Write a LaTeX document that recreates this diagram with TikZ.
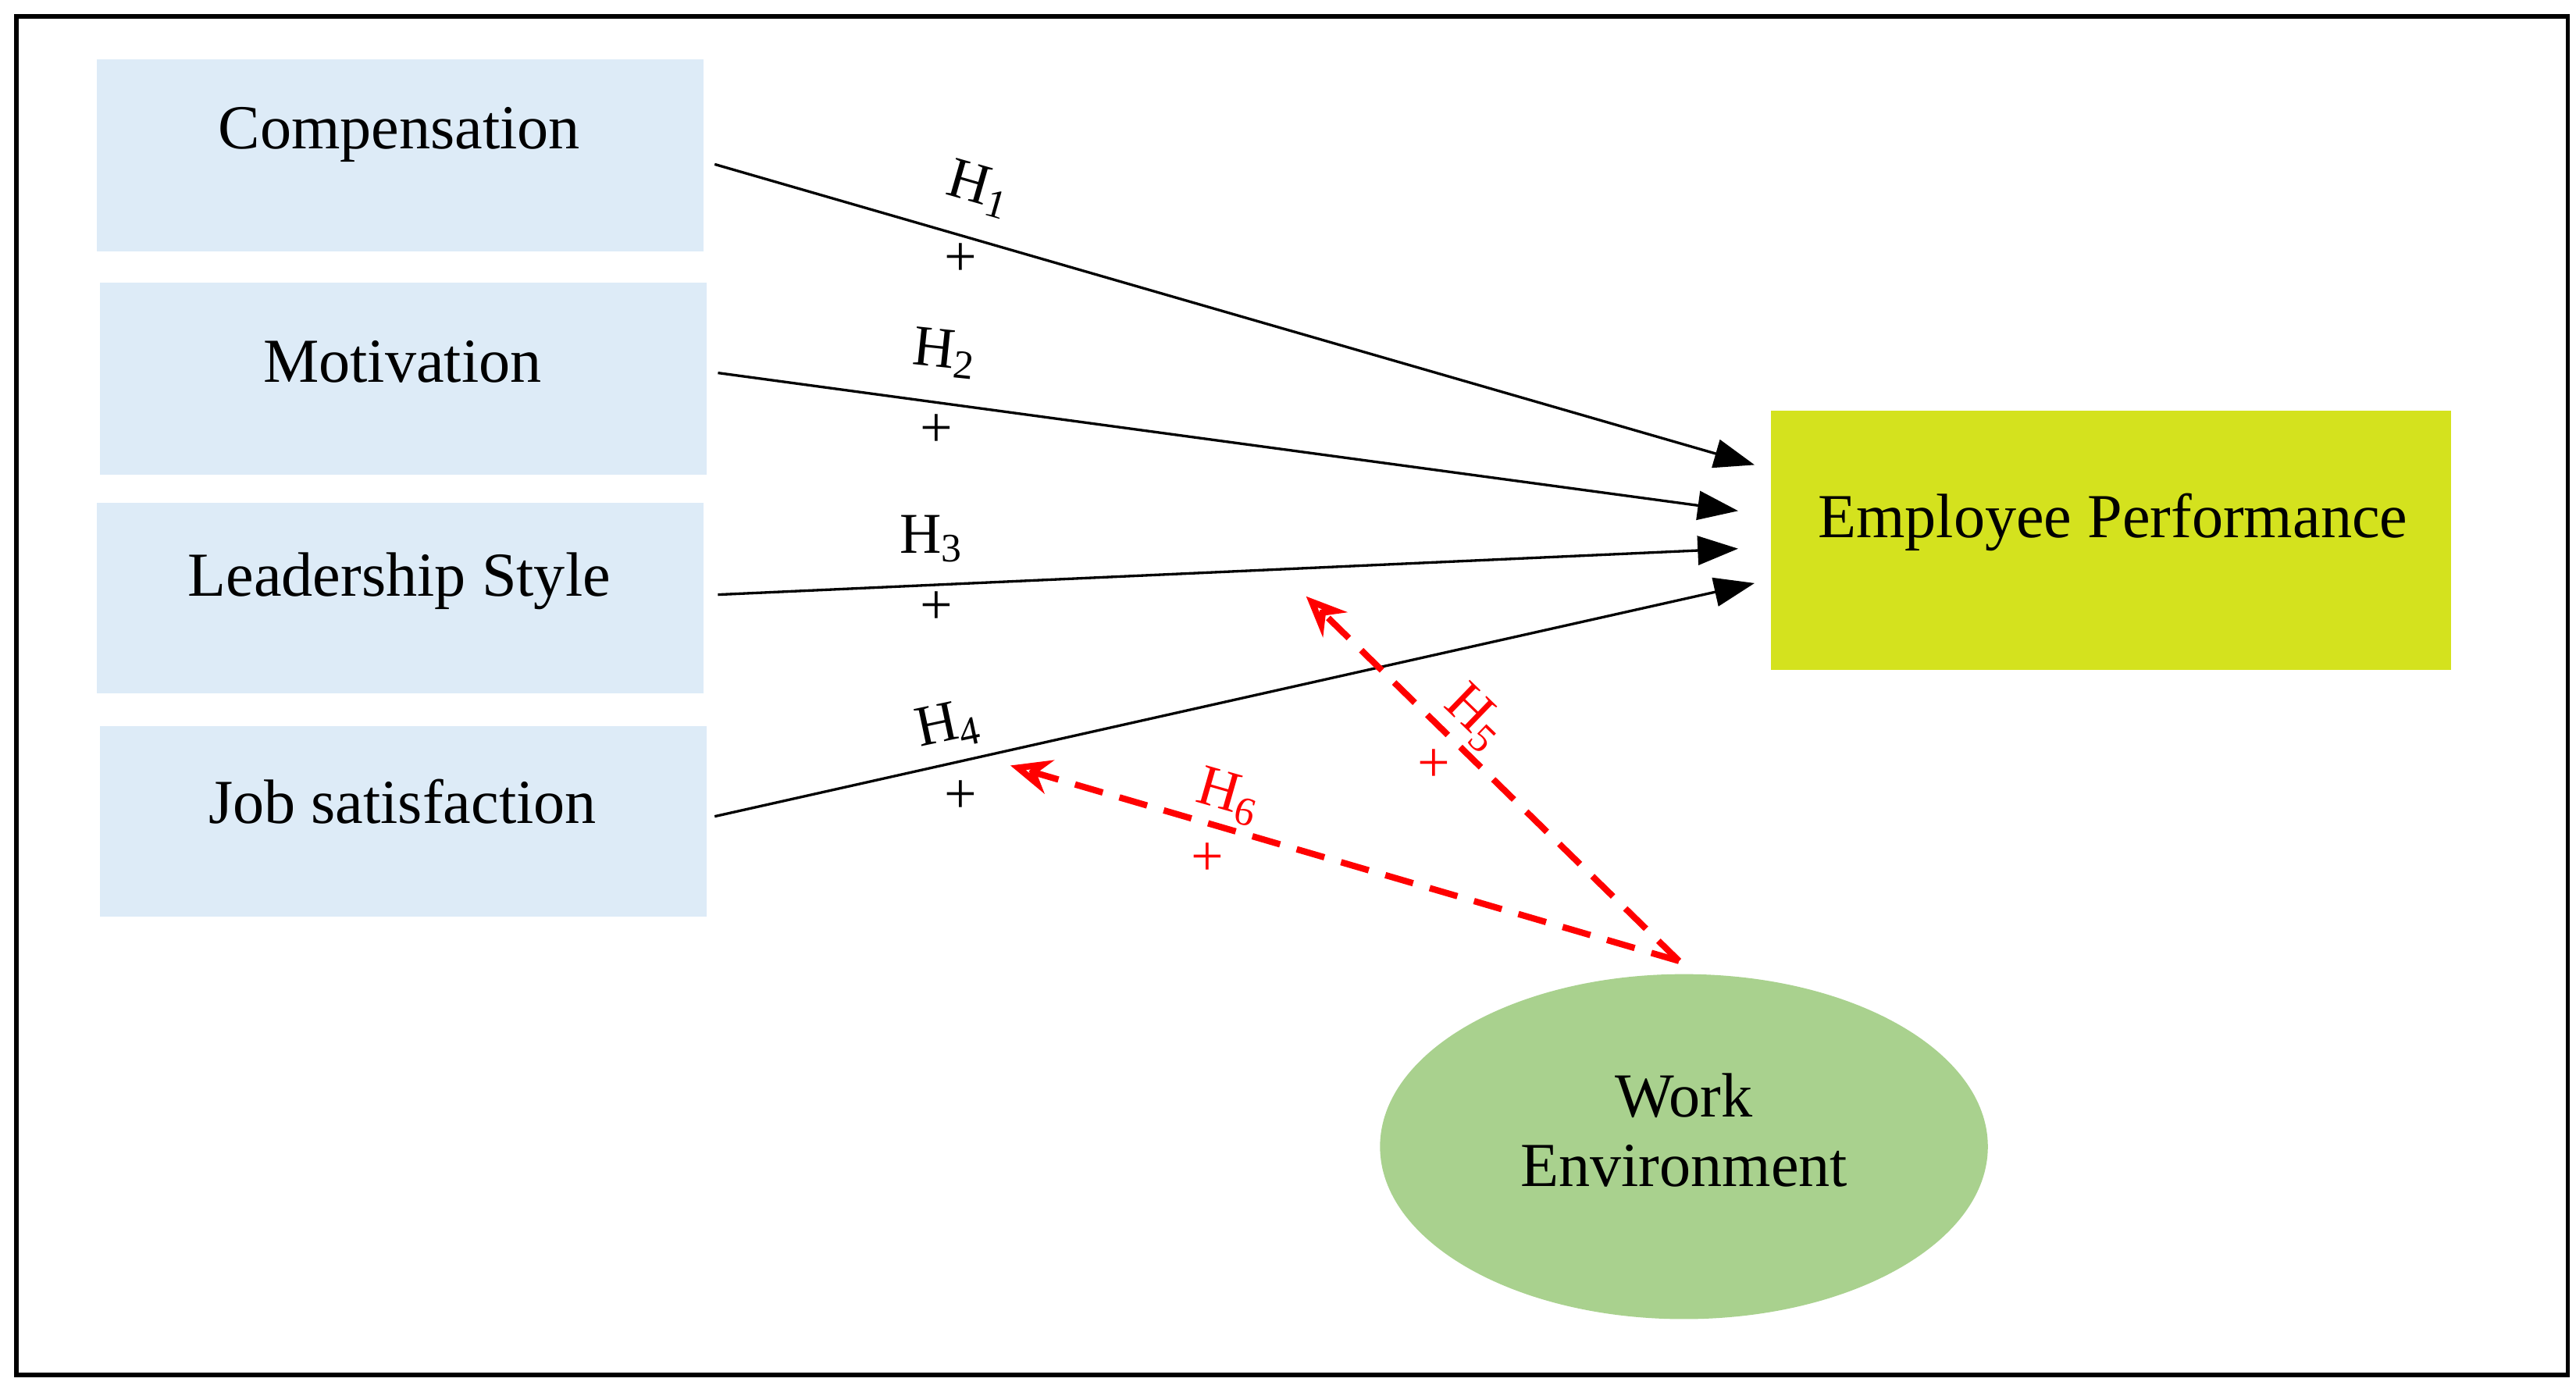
\documentclass[tikz,border=0pt]{standalone}
\usepackage{fontspec}
\setmainfont{Liberation Serif}
\usetikzlibrary{arrows.meta,shapes.geometric}
\begin{document}
\begin{tikzpicture}[x=0.02cm,y=-0.02cm,
  bx/.style={fill={rgb,255:red,221;green,235;blue,247},inner sep=0},
  big/.style={font=\fontsize{21.7}{26}\selectfont},
  lab/.style={font=\fontsize{20}{24}\selectfont},
  rlab/.style={font=\fontsize{20}{24}\selectfont,text=red},
  arr/.style={-{Triangle[length=14pt,width=10pt]},line width=0.9pt},
  rarr/.style={-{Stealth[length=14pt,width=12pt,open]},red,dashed,line width=2.2pt,dash pattern=on 10pt off 6pt}]
\useasboundingbox (0,0) rectangle (1568,845.5);
\draw[line width=1.5pt] (10,10) rectangle (1563,837);
\fill[bx] (59,36) rectangle (428,153);
\fill[bx] (61,172) rectangle (430,289);
\fill[bx] (59,306) rectangle (428,422);
\fill[bx] (61,442) rectangle (430,558);
\node[big] (c) at (243,82) {Compensation};
\node[big] (m) at (245,220) {Motivation};
\node[big] (l) at (243,354) {Leadership Style};
\node[big] (j) at (245,488) {Job satisfaction};
\fill[fill={rgb,255:red,212;green,226;blue,30}] (1078,250) rectangle (1492,408);
\node[big] (ep) at (1286,318) {Employee Performance};
\fill[fill={rgb,255:red,169;green,209;blue,142}] (1025,698) ellipse [x radius=185,y radius=105];
\node[big,align=center,font=\fontsize{21.7}{24}\selectfont] (we) at (1025,688) {Work\\Environment};
\coordinate (c1) at (435,100); \coordinate (c2) at (1068,283);
\coordinate (m1) at (437,227); \coordinate (m2) at (1058,311);
\coordinate (l1) at (437,362); \coordinate (l2) at (1058,334);
\coordinate (j1) at (435,497); \coordinate (j2) at (1068,355);
\draw[arr] (c1) -- (c2);
\draw[arr] (m1) -- (m2);
\draw[arr] (l1) -- (l2);
\draw[arr] (j1) -- (j2);
\node[lab,rotate=-16] (h1) at (596,115) {H\textsubscript{1}};
\node[lab] (p1) at (585,158) {+};
\node[lab,rotate=-6] (h2) at (575,215) {H\textsubscript{2}};
\node[lab] (p2) at (570,262) {+};
\node[lab] (h3) at (567,328) {H\textsubscript{3}};
\node[lab] (p3) at (570,370) {+};
\node[lab,rotate=12] (h4) at (577,442) {H\textsubscript{4}};
\node[lab] (p4) at (585,485) {+};
\coordinate (w0) at (1022,585);
\coordinate (w5) at (795,363);
\coordinate (w6) at (615,466);
\draw[rarr] (w0) -- (w5);
\draw[rarr] (w0) -- (w6);
\node[rlab,rotate=-44] (h5) at (898,437) {H\textsubscript{5}};
\node[rlab] (p5) at (873,466) {+};
\node[rlab,rotate=-16] (h6) at (748,485) {H\textsubscript{6}};
\node[rlab] (p6) at (735,523) {+};
\end{tikzpicture}
\end{document}
